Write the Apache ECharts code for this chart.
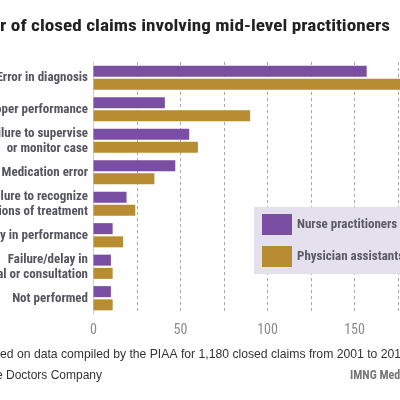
<!DOCTYPE html>
<html>
<head>
<meta charset="utf-8">
<script src="https://cdn.jsdelivr.net/npm/echarts@6/dist/echarts.min.js"></script>
<style>html,body{margin:0;padding:0;background:#fff;}#c{width:400px;height:400px;}</style>
</head>
<body>
<div id="c"></div>
<script>
var categories = [
  "Error in diagnosis",
  "Improper performance",
  "Failure to supervise\nor monitor case",
  "Medication error",
  "Failure to recognize\ncomplications of treatment",
  "Delay in performance",
  "Failure/delay in\nreferral or consultation",
  "Not performed"
];
var nurse = [157, 41, 55, 47, 19, 11, 10, 10];
var physician = [182, 90, 60, 35, 24, 17, 11, 11];
var seriesNames = ["Nurse practitioners", "Physician assistants"];
var tickValues = [0, 50, 100, 150, 200];
var titleText = "Number of closed claims involving mid-level practitioners";
var noteText = "Note: Based on data compiled by the PIAA for 1,180 closed claims from 2001 to 2012.";
var sourceText = "Source: The Doctors Company";
var creditText = "IMNG Medical Media";

var condensed = '"Roboto Condensed","Open Sans Condensed","DejaVu Sans Condensed",sans-serif';
var regular = '"Liberation Sans","DejaVu Sans",sans-serif';

function measure(t, font) {
  var cv = document.createElement('canvas').getContext('2d');
  cv.font = font;
  return cv.measureText(t).width;
}
var noteFont = "12.2px " + regular;
var noteOffset = measure("Note: Bas", noteFont);

var chart = echarts.init(document.getElementById('c'), null, {renderer: 'canvas'});
chart.setOption({
  backgroundColor: '#ffffff',
  animation: false,
  grid: {left: 93.5, top: 62, width: 348, height: 252, outerBoundsMode: 'none', containLabel: false},
  legend: {
    orient: 'vertical',
    left: 254, top: 207,
    padding: [7, 40, 7, 8],
    itemWidth: 30, itemHeight: 21, itemGap: 11,
    backgroundColor: '#e5e0ee',
    icon: 'rect',
    data: seriesNames,
    textStyle: {fontFamily: condensed, fontWeight: 'bold', fontSize: 13, color: '#5a5a66'}
  },
  xAxis: {
    type: 'value', min: 0, max: 200, interval: 25,
    axisLine: {show: false}, axisTick: {show: false},
    axisLabel: {
      margin: 9, fontFamily: condensed, fontSize: 14, color: '#8a8a8a',
      formatter: function (v) { return tickValues.indexOf(v) >= 0 ? String(v) : ''; }
    },
    splitLine: {show: true, lineStyle: {color: '#a8a8a8', type: [3, 3], width: 1}}
  },
  yAxis: {
    type: 'category', data: categories, inverse: true,
    axisLine: {show: true, lineStyle: {color: '#cfcfcf', width: 1}},
    axisTick: {show: false},
    axisLabel: {margin: 5.5, fontFamily: condensed, fontWeight: 'bold', fontSize: 13, color: '#555560', lineHeight: 15, align: 'right'}
  },
  series: [
    {name: seriesNames[0], type: 'bar', data: nurse, barWidth: 11, barGap: '20%', itemStyle: {color: '#7a4ea3'}},
    {name: seriesNames[1], type: 'bar', data: physician, barWidth: 11, barGap: '20%', itemStyle: {color: '#b88c30'}}
  ],
  graphic: [
    {type: 'text', x: 390, y: 18, scaleX: 1.13, style: {text: titleText, font: 'bold 17px ' + condensed, fill: '#222222', textAlign: 'right'}},
    {type: 'text', x: -noteOffset, y: 349, style: {text: noteText, font: noteFont, fill: '#333333'}},
    {type: 'text', x: 102, y: 370, style: {text: sourceText, font: '12px ' + regular, fill: '#333333', textAlign: 'right'}},
    {type: 'text', x: 350, y: 370, style: {text: creditText, font: 'bold 12px ' + condensed, fill: '#777777'}}
  ]
});
</script>
</body>
</html>
